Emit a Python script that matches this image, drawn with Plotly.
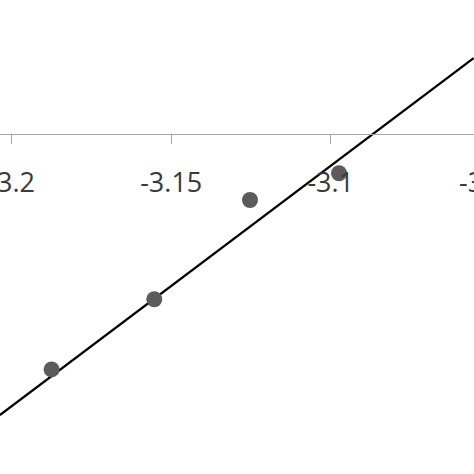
import plotly.graph_objects as go

x_vals = [-3.1875, -3.1553, -3.1253, -3.0974]
y_vals = [-0.0738, -0.0518, -0.0207, -0.0123]

# Fitted straight line, end points
fit_x = [-3.2037, -3.0552]
fit_y = [-0.0881, 0.0238]

# Tick labels on the x axis
tick_vals = [-3.2, -3.15, -3.1]
tick_text = ["-3.2", "-3.15", "-3.1"]
edge_tick = -3.05

x_range = [-3.20367, -3.05508]
y_range = [-0.10658, 0.0420]

label_font = dict(family="Open Sans", size=27, color="#3a3a3a")

fig = go.Figure()

fig.add_trace(go.Scatter(
    x=fit_x, y=fit_y, mode="lines",
    line=dict(color="black", width=2.2),
    showlegend=False, hoverinfo="skip"
))

fig.add_trace(go.Scatter(
    x=x_vals, y=y_vals, mode="markers",
    marker=dict(color="#5b5b5b", size=16),
    showlegend=False
))

x_axis_pos = (0 - y_range[0]) / (y_range[1] - y_range[0])
edge_pos = (edge_tick - x_range[0]) / (x_range[1] - x_range[0])

# partly visible label at the right edge (tick is past the axis range)
fig.add_annotation(
    x=edge_pos, y=x_axis_pos, xref="paper", yref="paper",
    text="-3.05", showarrow=False, xanchor="center", yanchor="middle",
    yshift=-48, font=label_font
)

fig.update_layout(
    width=474, height=474,
    margin=dict(l=0, r=0, t=0, b=0),
    paper_bgcolor="white", plot_bgcolor="white",
    xaxis=dict(
        range=x_range, anchor="free", position=x_axis_pos,
        showline=True, linecolor="#a6a6a6", linewidth=1,
        ticks="outside", ticklen=9, tickcolor="#a6a6a6", tickwidth=1,
        tickvals=tick_vals, ticktext=tick_text,
        tickfont=label_font, ticklabeloverflow="allow",
        ticklabelstandoff=16,
        showgrid=False, zeroline=False, automargin=False
    ),
    yaxis=dict(
        range=y_range, visible=False, showgrid=False, zeroline=False
    )
)

fig.write_html("out.html", config={"displayModeBar": False},
               post_script="document.body.style.margin='0';")
